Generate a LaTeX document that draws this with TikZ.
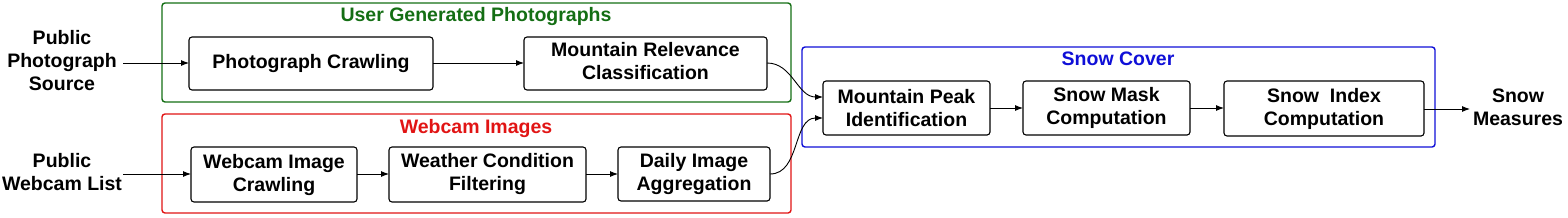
\documentclass[tikz,border=0pt]{standalone}
\usepackage{fontspec}
\setmainfont{Liberation Sans}
\usetikzlibrary{arrows.meta}
\definecolor{ugreen}{RGB}{20,110,20}
\definecolor{wred}{RGB}{225,20,20}
\definecolor{sblue}{RGB}{15,15,215}
\begin{document}
\begin{tikzpicture}[x=1pt,y=-1pt,
  txt/.style={font=\fontsize{19.5}{23}\selectfont\bfseries, align=center},
  stepbox/.style={draw=black, line width=1.1pt, rounded corners=3pt},
  grp/.style={line width=1.4pt, rounded corners=3pt},
  arr/.style={-{Latex[length=8pt,width=6pt]}, line width=0.9pt}]
\useasboundingbox (0,0) rectangle (1568,217);
% groups
\draw[grp, draw=ugreen] (162,3) rectangle (791,102);
\draw[grp, draw=wred] (162,114) rectangle (791,213);
\draw[grp, draw=sblue] (802,47) rectangle (1435,147);
\node[txt, text=ugreen] (tug) at (476,16) {User Generated Photographs};
\node[txt, text=wred] (twi) at (476,128) {Webcam Images};
\node[txt, text=sblue] (tsc) at (1118,59) {Snow Cover};
% boxes
\draw[stepbox] (189,37) rectangle (433,90);
\node[txt] (pc) at (311,63.5) {Photograph Crawling};
\draw[stepbox] (524,37) rectangle (767,90);
\node[txt] (mr) at (645.5,61) {Mountain Relevance\\Classification};
\draw[stepbox] (191,147) rectangle (357,202);
\node[txt] (wc) at (274,174.5) {Webcam Image\\Crawling};
\draw[stepbox] (389,147) rectangle (586,202);
\node[txt] (wf) at (487.5,173.5) {Weather Condition\\Filtering};
\draw[stepbox] (618,147) rectangle (770,201);
\node[txt] (da) at (694,174) {Daily Image\\Aggregation};
\draw[stepbox] (823,81) rectangle (990,135);
\node[txt] (mp) at (906.5,108) {Mountain Peak\\Identification};
\draw[stepbox] (1023,81) rectangle (1190,135);
\node[txt] (sm) at (1106.5,108) {Snow Mask\\Computation};
\draw[stepbox] (1224,81) rectangle (1424,136);
\node[txt] (si) at (1324,108.5) {Snow\ \ Index\\Computation};
% coordinates for box edges
\coordinate (pcL) at (189,63);
\coordinate (pcR) at (433,63);
\coordinate (mrL) at (524,63);
\coordinate (mrR) at (767,63);
\coordinate (wcL) at (191,174);
\coordinate (wcR) at (357,174);
\coordinate (wfL) at (389,174);
\coordinate (wfR) at (586,174);
\coordinate (daL) at (618,174);
\coordinate (daR) at (770,174);
\coordinate (mpL1) at (823,97);
\coordinate (mpL2) at (823,118);
\coordinate (mpR) at (990,108);
\coordinate (smL) at (1023,108);
\coordinate (smR) at (1190,108);
\coordinate (siL) at (1224,108);
\coordinate (siR) at (1424,109);
% outside labels
\node[txt] (src) at (62,61) {Public\\Photograph\\Source};
\node[txt] (wl) at (62,172) {Public\\Webcam List};
\node[txt] (out) at (1518,107) {Snow\\Measures};
\coordinate (srcR) at (123,63);
\coordinate (wlR) at (123,174);
\coordinate (outL) at (1470,109);
% arrows
\draw[arr] (srcR) -- (pcL);
\draw[arr] (pcR) -- (mrL);
\draw[arr] (wlR) -- (wcL);
\draw[arr] (wcR) -- (wfL);
\draw[arr] (wfR) -- (daL);
\draw[arr] (mrR) to[out=0,in=180] (mpL1);
\draw[arr] (daR) to[out=0,in=180] (mpL2);
\draw[arr] (mpR) -- (smL);
\draw[arr] (smR) -- (siL);
\draw[arr] (siR) -- (outL);
\end{tikzpicture}
\end{document}
